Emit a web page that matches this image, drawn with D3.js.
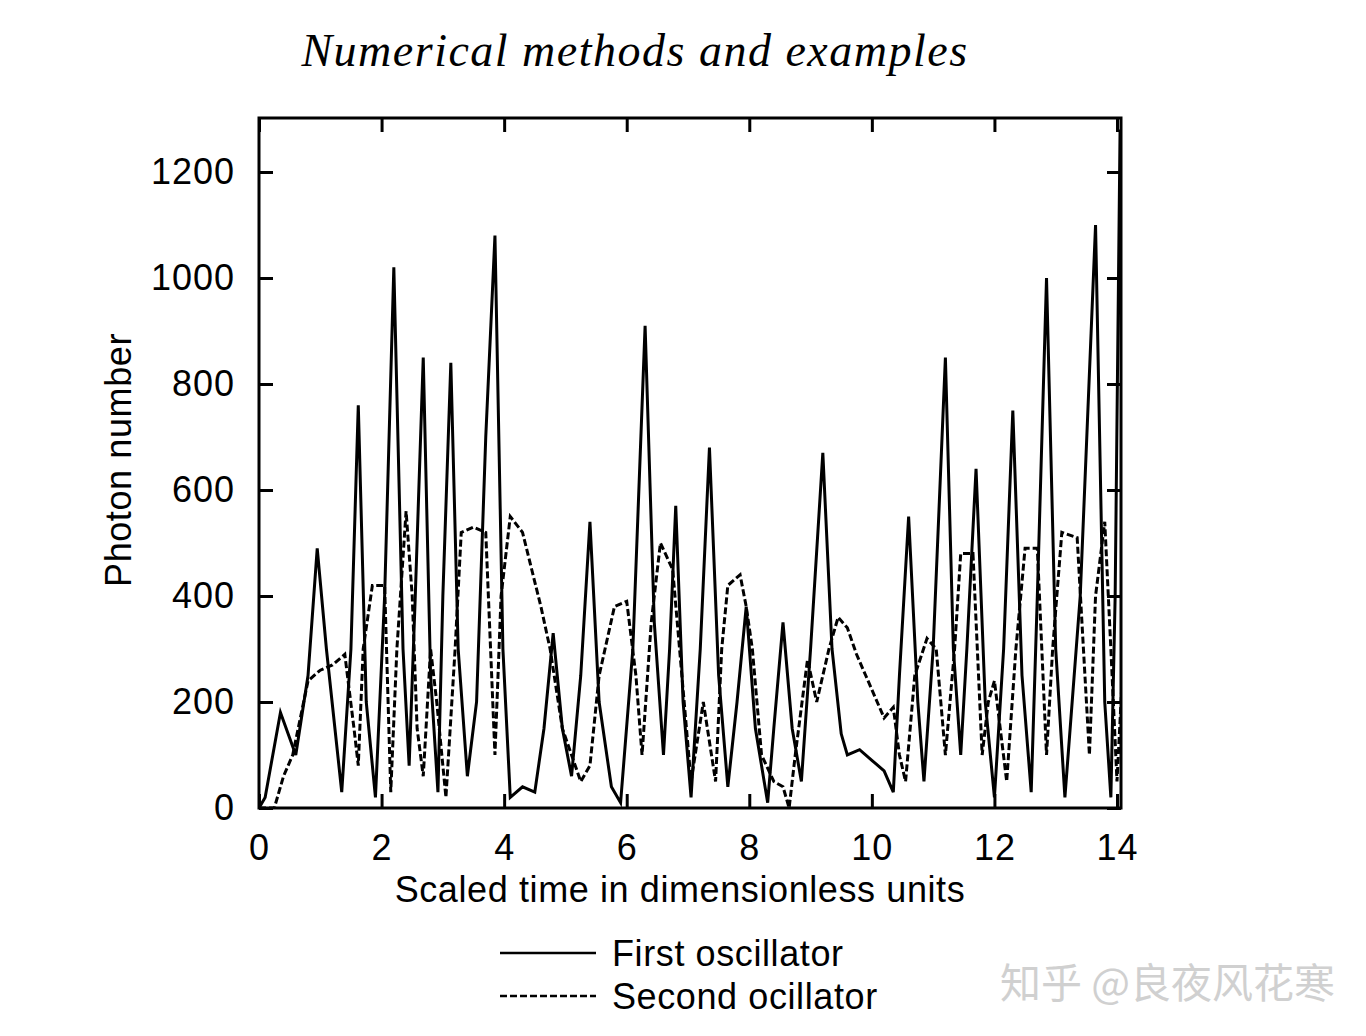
<!DOCTYPE html>
<html><head><meta charset="utf-8">
<script src="https://cdn.jsdelivr.net/npm/d3@7"></script>
<style>body{margin:0;background:#fff}</style></head>
<body><svg id="c" width="1366" height="1036"></svg>
<script>
const xTicks=[0,2,4,6,8,10,12,14];
const yTicks=[0,200,400,600,800,1000,1200];
const first=[[0,0],[0.1,20],[0.35,180],[0.6,100],[0.8,250],[0.95,490],[1.1,300],[1.35,30],[1.5,300],[1.62,760],[1.75,200],[1.9,20],[2.05,400],[2.2,1020],[2.35,300],[2.45,80],[2.55,400],[2.68,850],[2.8,250],[2.92,30],[3.0,400],[3.13,840],[3.25,300],[3.4,60],[3.55,200],[3.7,700],[3.85,1080],[3.98,300],[4.1,20],[4.3,40],[4.5,30],[4.65,150],[4.8,330],[4.95,150],[5.1,60],[5.25,250],[5.4,540],[5.55,200],[5.75,40],[5.9,10],[6.1,300],[6.3,910],[6.45,350],[6.6,100],[6.7,300],[6.8,570],[6.92,200],[7.05,20],[7.2,300],[7.35,680],[7.5,250],[7.65,40],[7.8,200],[7.95,380],[8.1,150],[8.3,10],[8.4,150],[8.55,350],[8.7,150],[8.85,50],[9.0,300],[9.2,670],[9.35,300],[9.5,140],[9.6,100],[9.8,110],[10.0,90],[10.2,70],[10.35,30],[10.45,250],[10.6,550],[10.75,200],[10.85,50],[11.0,300],[11.2,850],[11.33,300],[11.45,100],[11.55,300],[11.7,640],[11.85,200],[12.0,20],[12.15,300],[12.3,750],[12.45,250],[12.6,30],[12.7,400],[12.85,1000],[13.0,300],[13.15,20],[13.4,400],[13.65,1100],[13.8,200],[13.9,20],[13.97,400],[14.05,1280],[14.1,300]];
const second=[[0,0],[0.25,0],[0.4,60],[0.55,100],[0.8,240],[1.0,260],[1.2,270],[1.4,290],[1.55,150],[1.62,80],[1.7,300],[1.85,420],[2.05,420],[2.15,30],[2.25,300],[2.4,560],[2.5,400],[2.58,150],[2.68,60],[2.8,300],[2.9,200],[3.05,20],[3.2,300],[3.3,520],[3.5,530],[3.7,520],[3.85,100],[3.95,400],[4.1,550],[4.3,520],[4.45,450],[4.6,380],[4.75,300],[4.95,150],[5.1,100],[5.25,50],[5.4,80],[5.55,250],[5.8,380],[6.0,390],[6.15,250],[6.25,100],[6.4,350],[6.55,500],[6.75,450],[6.9,250],[7.05,50],[7.25,200],[7.45,50],[7.55,300],[7.65,420],[7.85,440],[7.95,380],[8.05,300],[8.2,100],[8.4,50],[8.55,40],[8.65,0],[8.75,100],[8.95,280],[9.1,200],[9.3,300],[9.45,360],[9.6,340],[9.75,290],[9.9,250],[10.05,210],[10.2,170],[10.35,190],[10.45,100],[10.55,50],[10.7,250],[10.9,320],[11.05,300],[11.2,100],[11.35,300],[11.45,480],[11.65,480],[11.8,100],[11.9,200],[12.0,240],[12.2,50],[12.35,300],[12.5,490],[12.7,490],[12.85,100],[12.95,300],[13.1,520],[13.35,510],[13.55,100],[13.65,400],[13.8,540],[13.9,300],[14.0,50],[14.1,280]];

const svg=d3.select("#c");
const L=259,R=1121,T=118,B=808;
const x=d3.scaleLinear().domain([0,14]).range([259,1117]);
const y=d3.scaleLinear().domain([0,1200]).range([808,172]);
const f="'Liberation Sans',Arial,sans-serif";
svg.append("text").attr("x",635).attr("y",66).attr("text-anchor","middle")
 .attr("font-family","'Liberation Serif','Times New Roman',serif").attr("font-style","italic")
 .attr("font-size",46).attr("letter-spacing",1.5).text("Numerical methods and examples");
const g=svg.append("g");
g.append("defs").append("clipPath").attr("id","cp").append("rect").attr("x",L).attr("y",T).attr("width",R-L).attr("height",B-T);
const line=d3.line().x(d=>x(d[0])).y(d=>y(d[1]));
g.append("path").datum(second).attr("d",line).attr("fill","none").attr("stroke","#000").attr("stroke-width",3).attr("stroke-dasharray","7,3").attr("clip-path","url(#cp)");
g.append("path").datum(first).attr("d",line).attr("fill","none").attr("stroke","#000").attr("stroke-width",3).attr("clip-path","url(#cp)");
g.append("rect").attr("x",L).attr("y",T).attr("width",R-L).attr("height",B-T).attr("fill","none").attr("stroke","#000").attr("stroke-width",3);
const fmt=d3.format("d");
const xa=g.append("g").attr("transform",`translate(0,${B})`).call(d3.axisBottom(x).tickValues(xTicks).tickFormat(fmt).tickSizeInner(-14).tickSizeOuter(0).tickPadding(26));
const xt=g.append("g").attr("transform",`translate(0,${T})`).call(d3.axisTop(x).tickValues(xTicks).tickSizeInner(-14).tickSizeOuter(0).tickFormat(""));
const ya=g.append("g").attr("transform",`translate(${L},0)`).call(d3.axisLeft(y).tickValues(yTicks).tickFormat(fmt).tickSizeInner(-14).tickSizeOuter(0).tickPadding(24));
const yr=g.append("g").attr("transform",`translate(${R},0)`).call(d3.axisRight(y).tickValues(yTicks).tickSizeInner(-14).tickSizeOuter(0).tickFormat(""));
[xa,xt,ya,yr].forEach(a=>{a.select(".domain").remove();a.selectAll("line").attr("stroke","#000").attr("stroke-width",3);a.selectAll("text").attr("font-family",f).attr("font-size",36).attr("letter-spacing",1).attr("fill","#000");});
svg.append("text").attr("x",680).attr("y",902).attr("text-anchor","middle").attr("font-family",f).attr("font-size",36).attr("letter-spacing",0.6).text("Scaled time in dimensionless units");
svg.append("text").attr("transform","translate(131,460) rotate(-90)").attr("text-anchor","middle").attr("font-family",f).attr("font-size",36).attr("letter-spacing",0.6).text("Photon number");
const leg=[["First oscillator",null,953],["Second ocillator","7,3",996]];
leg.forEach(l=>{
 svg.append("line").attr("x1",500).attr("x2",596).attr("y1",l[2]).attr("y2",l[2]).attr("stroke","#000").attr("stroke-width",2.5).attr("stroke-dasharray",l[1]);
 svg.append("text").attr("x",612).attr("y",l[2]+13).attr("font-family",f).attr("font-size",36).attr("letter-spacing",0.6).text(l[0]);
});
svg.append("text").attr("x",1335).attr("y",998).attr("text-anchor","end").attr("font-family","'Noto Sans CJK SC',sans-serif").attr("font-size",41).attr("fill","#d0d0d0").text("知乎 @良夜风花寒");
</script></body></html>
